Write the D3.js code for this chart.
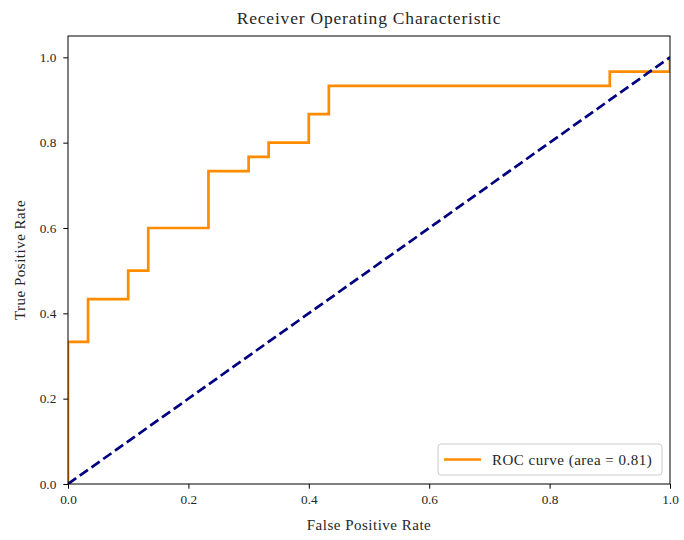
<!DOCTYPE html>
<html><head><meta charset="utf-8">
<script src="https://d3js.org/d3.v7.min.js"></script>
<style>body{margin:0;background:#fff}svg{display:block}text{font-family:"Liberation Serif","DejaVu Serif",serif;fill:#262626}</style>
</head><body><svg id="c" width="684" height="540"></svg>
<script>
const fpr = [0, 0, 0.0333, 0.0333, 0.1, 0.1, 0.1333, 0.1333, 0.2333, 0.2333, 0.3, 0.3, 0.3333, 0.3333, 0.4, 0.4, 0.4333, 0.4333, 0.9, 0.9, 1.0, 1.0];
const tpr = [0, 0.3333, 0.3333, 0.4333, 0.4333, 0.5, 0.5, 0.6, 0.6, 0.7333, 0.7333, 0.7667, 0.7667, 0.8, 0.8, 0.8667, 0.8667, 0.9333, 0.9333, 0.9667, 0.9667, 1.0];
const diagX = [0, 1];
const diagY = [0, 1];
const xTicks = [0, 0.2, 0.4, 0.6, 0.8, 1.0];
const yTicks = [0, 0.2, 0.4, 0.6, 0.8, 1.0];
const title = "Receiver Operating Characteristic";
const xLabel = "False Positive Rate";
const yLabel = "True Positive Rate";
const legendLabel = "ROC curve (area = 0.81)";

const L = 68, R = 670, T = 36, B = 484;
const svg = d3.select("#c");
const x = d3.scaleLinear().domain([0, 1]).range([L, R]);
const y = d3.scaleLinear().domain([0, 1.05]).range([B, T]);

const clip = svg.append("defs").append("clipPath").attr("id", "pc");
clip.append("rect").attr("x", L).attr("y", T).attr("width", R - L).attr("height", B - T);

const line = d3.line().x(d => x(d[0])).y(d => y(d[1]));
const g = svg.append("g").attr("clip-path", "url(#pc)");
g.append("path").datum(fpr.map((v, i) => [v, tpr[i]]))
  .attr("d", line).attr("fill", "none").attr("stroke", "#ff8c00").attr("stroke-width", 2.7)
  .attr("stroke-linejoin", "miter").attr("stroke-linecap", "square");
g.append("path").datum(diagX.map((v, i) => [v, diagY[i]]))
  .attr("d", line).attr("fill", "none").attr("stroke", "#000080").attr("stroke-width", 2.7)
  .attr("stroke-dasharray", "10,4.4");

const xa = svg.append("g").attr("transform", `translate(0,${B})`)
  .call(d3.axisBottom(x).tickValues(xTicks).tickFormat(d3.format(".1f")).tickSizeInner(4.7).tickSizeOuter(0).tickPadding(6));
const ya = svg.append("g").attr("transform", `translate(${L},0)`)
  .call(d3.axisLeft(y).tickValues(yTicks).tickFormat(d3.format(".1f")).tickSizeInner(4.7).tickSizeOuter(0).tickPadding(7));
[xa, ya].forEach(a => {
  a.select(".domain").remove();
  a.selectAll(".tick line").attr("stroke", "#000").attr("stroke-width", 1);
  a.selectAll(".tick text").style("font-size", "13.3px").attr("fill", "#262626");
});

svg.append("rect").attr("x", L).attr("y", T).attr("width", R - L).attr("height", B - T)
  .attr("fill", "none").attr("stroke", "#000").attr("stroke-width", 1);

svg.append("text").attr("x", (L + R) / 2).attr("y", 24).attr("text-anchor", "middle")
  .style("font-size", "17.5px").style("letter-spacing", "0.8px").text(title);
svg.append("text").attr("x", (L + R) / 2).attr("y", 530).attr("text-anchor", "middle")
  .style("font-size", "15px").style("letter-spacing", "0.5px").text(xLabel);
svg.append("text").attr("transform", `translate(25,${(T + B) / 2}) rotate(-90)`).attr("text-anchor", "middle")
  .style("font-size", "15px").style("letter-spacing", "0.5px").text(yLabel);

const lg = svg.append("g");
lg.append("rect").attr("x", 438).attr("y", 444).attr("width", 224).attr("height", 31).attr("rx", 3)
  .attr("fill", "#fff").attr("fill-opacity", 0.8).attr("stroke", "#ccc").attr("stroke-width", 1);
lg.append("line").attr("x1", 444).attr("x2", 481).attr("y1", 459.5).attr("y2", 459.5)
  .attr("stroke", "#ff8c00").attr("stroke-width", 2.7);
lg.append("text").attr("x", 492).attr("y", 464.5).style("font-size", "15px").style("letter-spacing", "0.5px").text(legendLabel);
</script></body></html>
